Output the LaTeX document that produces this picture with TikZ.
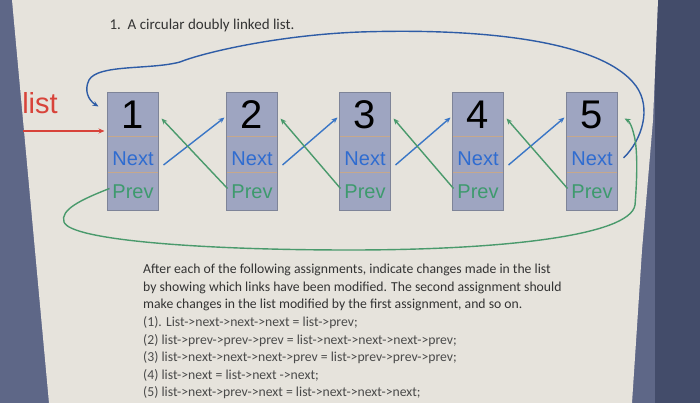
\documentclass[tikz,border=0pt]{standalone}
\usepackage{fontspec}
\setmainfont{Carlito}
\newfontfamily\arialfont{Liberation Sans}
\usetikzlibrary{positioning,arrows.meta}
\definecolor{screen}{HTML}{E6E3DC}
\definecolor{bezel}{HTML}{5E6787}
\definecolor{bezeldark}{HTML}{434C6A}
\definecolor{boxfill}{HTML}{9EA5C1}
\definecolor{boxedge}{HTML}{7E8498}
\definecolor{divcol}{HTML}{C6A88C}
\definecolor{nextblue}{HTML}{2F6CD0}
\definecolor{prevgreen}{HTML}{3E9A6E}
\definecolor{linkblue}{HTML}{3A76C6}
\definecolor{loopblue}{HTML}{2E5CA6}
\definecolor{linkgreen}{HTML}{4A9A6C}
\definecolor{listred}{HTML}{D8433A}
\definecolor{ink}{HTML}{333333}
\definecolor{codeink}{HTML}{4A4A4A}

\begin{document}
\begin{tikzpicture}[x=1pt,y=-1pt]
  \tikzset{cell/.style={fill=boxfill,minimum width=51pt,inner sep=0pt,outer sep=0pt}}
  \tikzset{numcell/.style={cell,minimum height=45pt,font=\arialfont\fontsize{40}{40}\selectfont}}
  \tikzset{nextcell/.style={cell,minimum height=36pt,text height=22pt,text depth=0pt,text=nextblue,font=\arialfont\fontsize{20}{20}\selectfont}}
  \tikzset{prevcell/.style={cell,minimum height=37pt,text=prevgreen,font=\arialfont\fontsize{20}{20}\selectfont}}
  \tikzset{divline/.style={divcol,line width=1pt}}
  \tikzset{boxline/.style={boxedge,line width=0.8pt}}
  \tikzset{nextlink/.style={linkblue,line width=1.4pt,-{Stealth[length=6pt,width=5pt]}}}
  \tikzset{prevlink/.style={linkgreen,line width=1.4pt,-{Stealth[length=6pt,width=5pt]}}}
  \useasboundingbox (0,0) rectangle (700,403);
  \fill[bezel] (0,0) rectangle (700,403);
  \fill[bezeldark] (655,0) rectangle (700,403);
  \fill[screen] (12,0) -- (658,0) -- (653,120) -- (642,250) -- (632,403) -- (49,403) -- cycle;
  \node[anchor=base west,text=ink,font=\fontsize{15}{17}\selectfont] (title) at (106,30) {1.\ \ A circular doubly linked list.};
  \node[text=listred,font=\arialfont\fontsize{29}{29}\selectfont] (lst) at (40,103) {list};
  \coordinate (lstart) at (23,131);
  \foreach \i/\x in {1/133,2/252,3/365,4/478,5/592} {
    \node[numcell] (n\i) at (\x,114.5) {\i};
    \node[nextcell,below=0pt of n\i] (nx\i) {Next};
    \node[prevcell,below=0pt of nx\i] (pv\i) {Prev};
    \draw[divline] (nx\i.north west) -- (nx\i.north east) (pv\i.north west) -- (pv\i.north east);
    \draw[boxline] (n\i.north west) rectangle (pv\i.south east);
  }
  \foreach \i/\j in {1/2,2/3,3/4,4/5} {
    \draw[nextlink] ([xshift=5pt,yshift=-10pt]nx\i.east) -- ([xshift=-2pt,yshift=-3pt]n\j.west);
    \draw[prevlink] ([xshift=1pt,yshift=3pt]pv\j.west) -- ([xshift=3pt,yshift=-4pt]n\i.east);
  }
  \draw[listred,line width=1.5pt,-{Stealth[length=6pt,width=5pt]},shorten >=3pt] (lstart) -- (lstart -| n1.west);
  \draw[loopblue,line width=1.4pt,-{Stealth[length=6pt,width=5pt]}] ([xshift=6pt,yshift=-3pt]nx5.east)
    .. controls (642,140) and (652,108) .. (636,86)
    .. controls (602,40) and (480,28) .. (360,32)
    .. controls (280,35) and (205,52) .. (180,62)
    .. controls (150,70) and (98,64) .. (89,80)
    .. controls (84,90) and (88,100) .. ([xshift=-9pt,yshift=8pt]n1.west);
  \draw[prevlink] ([xshift=2pt,yshift=3pt]pv1.west)
    .. controls (80,200) and (60,210) .. (64,222)
    .. controls (70,240) and (200,250) .. (350,250)
    .. controls (500,250) and (630,236) .. (635,205)
    .. controls (637,180) and (638,150) .. (634,135)
    .. controls (632,126) and (629,121) .. ([xshift=7pt,yshift=-4pt]n5.east);
  \node[anchor=north west,align=left,inner sep=0pt,text=ink,font=\fontsize{13.7}{17.6}\selectfont] (task) at (143,264)
    {After each of the following assignments, indicate changes made in the list\\
     by showing which links have been modified. The second assignment should\\
     make changes in the list modified by the first assignment, and so on.\\
     \color{codeink}(1). List->next->next->next = list->prev;\\
     \color{codeink}(2) list->prev->prev->prev = list->next->next->next->prev;\\
     \color{codeink}(3) list->next->next->next->prev = list->prev->prev->prev;\\
     \color{codeink}(4) list->next = list->next ->next;\\
     \color{codeink}(5) list->next->prev->next = list->next->next->next;};
\end{tikzpicture}
\end{document}
